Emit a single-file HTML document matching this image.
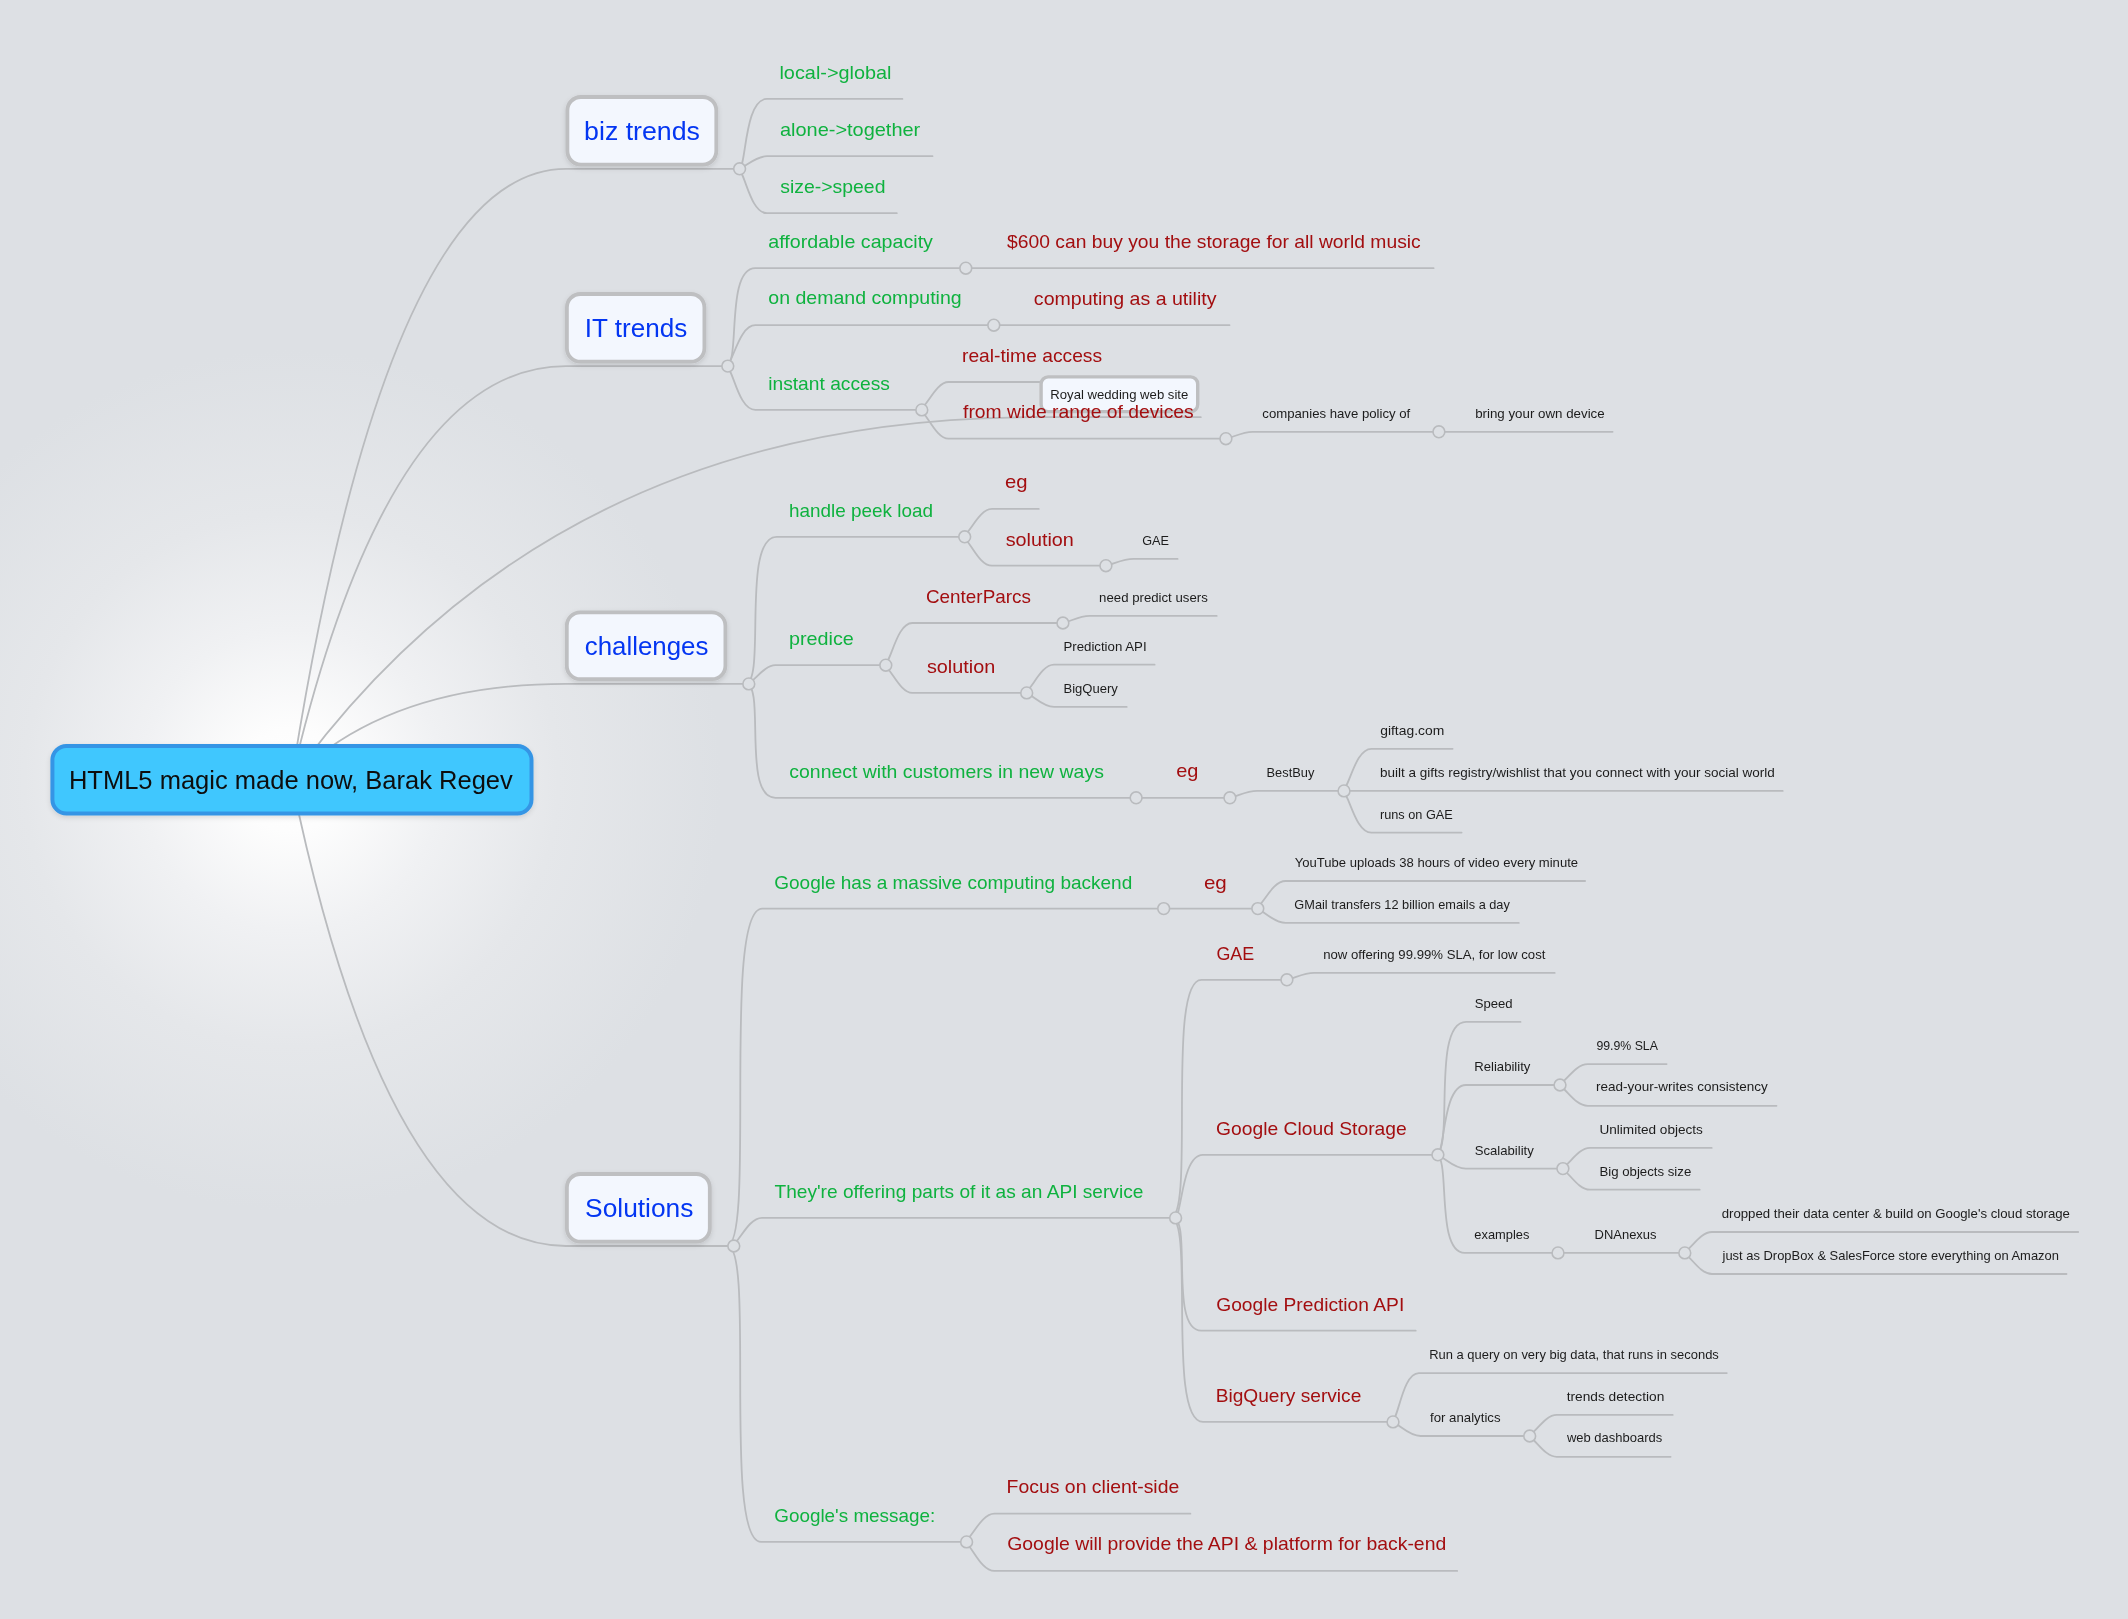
<!DOCTYPE html><html><head><meta charset="utf-8"><style>html,body{margin:0;padding:0;background:#dde0e4;}svg{display:block;will-change:transform;}text{font-family:"Liberation Sans",sans-serif;white-space:pre;}</style></head><body>
<svg width="2128" height="1619" viewBox="0 0 2128 1619">
<defs><radialGradient id="glow" cx="291" cy="780" r="430" gradientUnits="userSpaceOnUse"><stop offset="0" stop-color="#ffffff"/><stop offset="0.12" stop-color="#fdfdfd"/><stop offset="0.35" stop-color="#f0f1f3"/><stop offset="0.62" stop-color="#e5e7ea"/><stop offset="1" stop-color="#dde0e4"/></radialGradient>
<filter id="sh" x="-20%" y="-30%" width="140%" height="160%"><feDropShadow dx="0" dy="2" stdDeviation="2.5" flood-color="#000" flood-opacity="0.12"/></filter></defs>
<rect width="2128" height="1619" fill="#dde0e4"/><rect width="2128" height="1619" fill="url(#glow)"/>
<g fill="none" stroke="#b9bbbe" stroke-width="1.8" stroke-linecap="round">
<path d="M291.5,779.5Q388.1,168.8 566.0,168.8H739.6"/>
<path d="M291.5,779.5Q388.1,366.1 566.0,366.1H727.8"/>
<path d="M291.5,779.5Q388.1,683.9 566.0,683.9H748.8"/>
<path d="M291.5,779.5Q388.1,1246.0 566.0,1246.0H733.8"/>
<path d="M291.5,779.5Q553.4,417.2 1035.5,417.2H1200.8"/>
<path d="M739.6,168.8L739.1,168.8C746.3,168.8 744.0,98.9 767.0,98.9H902.4"/>
<path d="M739.6,168.8L737.7,168.8C744.2,168.8 754.4,156.2 767.0,156.2H932.5"/>
<path d="M739.6,168.8L737.5,168.8C744.7,168.8 749.5,213.2 767.0,213.2H896.8"/>
<path d="M727.8,366.0L725.8,366.0C741.0,366.0 724.9,268.2 755.4,268.2H965.8"/>
<path d="M727.8,366.0L725.5,366.0C732.7,366.0 738.4,325.2 755.4,325.2H993.8"/>
<path d="M727.8,366.0L725.7,366.0C732.9,366.0 737.8,409.9 755.4,409.9H921.8"/>
<path d="M965.8,268.2H1433.6"/>
<path d="M993.8,325.2H1229.5"/>
<path d="M921.8,409.9L918.7,409.9C926.0,409.9 935.2,382.0 948.5,382.0H1114.0"/>
<path d="M921.8,409.9L918.7,409.9C926.0,409.9 935.0,438.7 948.5,438.7H1225.9"/>
<path d="M1225.9,438.7L1224.4,438.7C1230.7,438.7 1241.3,431.8 1252.4,431.8H1438.9"/>
<path d="M1438.9,431.8H1612.6"/>
<path d="M748.8,683.9L745.3,683.9C766.5,683.9 740.9,536.8 776.7,536.8H964.7"/>
<path d="M748.8,683.9L746.4,683.9C753.2,683.9 763.1,665.2 775.4,665.2H885.8"/>
<path d="M748.8,683.9L745.9,683.9C765.7,683.9 741.7,797.8 775.4,797.8H1136.1"/>
<path d="M964.7,536.8L961.6,536.8C968.9,536.8 978.1,508.9 992.1,508.9H1038.8"/>
<path d="M964.7,536.8L961.7,536.8C968.9,536.8 977.9,565.7 992.0,565.7H1105.9"/>
<path d="M1105.9,565.7L1104.4,565.7C1110.7,565.7 1121.3,558.9 1133.6,558.9H1177.6"/>
<path d="M885.8,665.2L883.6,665.2C890.8,665.2 896.1,623.0 912.3,623.0H1062.9"/>
<path d="M1062.9,623.0L1061.4,623.0C1067.7,623.0 1078.2,615.9 1089.7,615.9H1216.7"/>
<path d="M885.8,665.2L882.7,665.2C890.0,665.2 899.2,692.9 912.3,692.9H1026.7"/>
<path d="M1026.7,692.9L1023.6,692.9C1030.9,692.9 1040.0,664.7 1054.0,664.7H1154.6"/>
<path d="M1026.7,692.9L1024.7,692.9C1031.3,692.9 1041.4,706.9 1054.0,706.9H1126.7"/>
<path d="M1136.1,797.8H1229.9"/>
<path d="M1229.9,797.8L1228.4,797.8C1234.7,797.8 1245.3,790.9 1257.1,790.9H1344.0"/>
<path d="M1344.0,790.9L1341.8,790.9C1349.0,790.9 1354.4,748.8 1371.4,748.8H1452.6"/>
<path d="M1344.0,790.9H1782.7"/>
<path d="M1344.0,790.9L1341.7,790.9C1349.0,790.9 1354.4,832.6 1371.4,832.6H1461.6"/>
<path d="M733.8,1246.0L726.8,1246.0C756.2,1246.0 721.6,908.6 762.2,908.6H1163.7"/>
<path d="M733.8,1246.0L730.7,1246.0C738.0,1246.0 747.2,1217.9 762.0,1217.9H1175.6"/>
<path d="M733.8,1246.0L727.6,1246.0C755.2,1246.0 722.5,1541.9 761.1,1541.9H966.6"/>
<path d="M1163.7,908.6H1257.8"/>
<path d="M1257.8,908.6L1254.7,908.6C1262.0,908.6 1271.2,881.0 1285.7,881.0H1585.1"/>
<path d="M1257.8,908.6L1255.7,908.6C1262.4,908.6 1272.5,922.9 1285.7,922.9H1518.8"/>
<path d="M1175.6,1217.9L1170.4,1217.9C1195.6,1217.9 1165.7,979.8 1201.4,979.8H1286.9"/>
<path d="M1286.9,979.8L1285.4,979.8C1291.7,979.8 1302.3,972.9 1314.1,972.9H1554.7"/>
<path d="M1175.6,1217.9L1174.7,1217.9C1181.9,1217.9 1181.4,1154.8 1202.8,1154.8H1437.9"/>
<path d="M1175.6,1217.9L1172.7,1217.9C1192.3,1217.9 1168.8,1330.7 1201.3,1330.7H1415.7"/>
<path d="M1175.6,1217.9L1171.0,1217.9C1194.7,1217.9 1166.4,1421.9 1203.0,1421.9H1393.0"/>
<path d="M1437.9,1154.8L1434.6,1154.8C1455.3,1154.8 1430.4,1021.9 1466.1,1021.9H1520.5"/>
<path d="M1437.9,1154.8L1437.4,1154.8C1444.6,1154.8 1442.3,1085.0 1466.0,1085.0H1560.0"/>
<path d="M1437.9,1154.8L1435.9,1154.8C1442.5,1154.8 1452.6,1168.6 1465.9,1168.6H1562.9"/>
<path d="M1437.9,1154.8L1435.8,1154.8C1451.1,1154.8 1434.9,1252.9 1464.8,1252.9H1558.0"/>
<path d="M1560.0,1085.0L1557.4,1085.0C1564.4,1085.0 1574.0,1064.1 1587.8,1064.1H1666.6"/>
<path d="M1560.0,1085.0L1557.4,1085.0C1564.4,1085.0 1574.1,1105.8 1587.8,1105.8H1776.5"/>
<path d="M1562.9,1168.6L1560.3,1168.6C1567.3,1168.6 1577.0,1147.9 1589.9,1147.9H1711.7"/>
<path d="M1562.9,1168.6L1560.3,1168.6C1567.3,1168.6 1576.9,1189.7 1589.9,1189.7H1699.7"/>
<path d="M1558.0,1252.9H1684.8"/>
<path d="M1684.8,1252.9L1682.2,1252.9C1689.2,1252.9 1698.8,1232.0 1712.0,1232.0H2078.2"/>
<path d="M1684.8,1252.9L1682.2,1252.9C1689.2,1252.9 1698.8,1274.0 1712.0,1274.0H2066.5"/>
<path d="M1393.0,1421.9L1391.2,1421.9C1398.4,1421.9 1401.9,1373.1 1418.9,1373.1H1726.8"/>
<path d="M1393.0,1421.9L1390.9,1421.9C1397.6,1421.9 1407.7,1436.0 1420.6,1436.0H1529.7"/>
<path d="M1529.7,1436.0L1527.1,1436.0C1534.1,1436.0 1543.7,1414.9 1556.8,1414.9H1672.7"/>
<path d="M1529.7,1436.0L1527.1,1436.0C1534.1,1436.0 1543.8,1456.8 1556.8,1456.8H1670.6"/>
<path d="M966.6,1541.9L963.5,1541.9C970.8,1541.9 979.9,1513.7 994.4,1513.7H1190.4"/>
<path d="M966.6,1541.9L963.6,1541.9C970.8,1541.9 979.8,1570.9 994.4,1570.9H1457.2"/>
</g>
<g fill="#dde0e4" stroke="#b9bbbe" stroke-width="1.6">
<circle cx="739.6" cy="168.8" r="5.9"/>
<circle cx="727.8" cy="366.1" r="5.9"/>
<circle cx="748.8" cy="683.9" r="5.9"/>
<circle cx="733.8" cy="1246.0" r="5.9"/>
<circle cx="965.8" cy="268.2" r="5.9"/>
<circle cx="993.8" cy="325.2" r="5.9"/>
<circle cx="921.8" cy="409.9" r="5.9"/>
<circle cx="1225.9" cy="438.7" r="5.9"/>
<circle cx="1438.9" cy="431.8" r="5.9"/>
<circle cx="964.7" cy="536.8" r="5.9"/>
<circle cx="885.8" cy="665.2" r="5.9"/>
<circle cx="1136.1" cy="797.8" r="5.9"/>
<circle cx="1105.9" cy="565.7" r="5.9"/>
<circle cx="1062.9" cy="623.0" r="5.9"/>
<circle cx="1026.7" cy="692.9" r="5.9"/>
<circle cx="1229.9" cy="797.8" r="5.9"/>
<circle cx="1344.0" cy="790.9" r="5.9"/>
<circle cx="1163.7" cy="908.6" r="5.9"/>
<circle cx="1175.6" cy="1217.9" r="5.9"/>
<circle cx="966.6" cy="1541.9" r="5.9"/>
<circle cx="1257.8" cy="908.6" r="5.9"/>
<circle cx="1286.9" cy="979.8" r="5.9"/>
<circle cx="1437.9" cy="1154.8" r="5.9"/>
<circle cx="1393.0" cy="1421.9" r="5.9"/>
<circle cx="1560.0" cy="1085.0" r="5.9"/>
<circle cx="1562.9" cy="1168.6" r="5.9"/>
<circle cx="1558.0" cy="1252.9" r="5.9"/>
<circle cx="1684.8" cy="1252.9" r="5.9"/>
<circle cx="1529.7" cy="1436.0" r="5.9"/>
</g>
<rect x="567.4" y="97.0" width="148.9" height="67.6" rx="13.5" fill="#f3f7fe" stroke="#bebfc1" stroke-width="3.8" filter="url(#sh)"/>
<rect x="566.9" y="294.0" width="137.5" height="67.7" rx="13.5" fill="#f3f7fe" stroke="#bebfc1" stroke-width="3.8" filter="url(#sh)"/>
<rect x="566.8" y="612.3" width="158.6" height="66.9" rx="13.5" fill="#f3f7fe" stroke="#bebfc1" stroke-width="3.8" filter="url(#sh)"/>
<rect x="566.9" y="1174.0" width="142.9" height="67.7" rx="13.5" fill="#f3f7fe" stroke="#bebfc1" stroke-width="3.8" filter="url(#sh)"/>
<rect x="52.4" y="746.0" width="479.1" height="67.5" rx="14" fill="#40c7fe" stroke="#3595e5" stroke-width="4" filter="url(#sh)"/>
<rect x="1041.1" y="376.9" width="156.6" height="34.7" rx="7" fill="#f3f7fe" stroke="#bebfc1" stroke-width="3.4"/>
<text x="1050.32" y="398.50" font-size="13.5" fill="#1c1c1c" textLength="137.96" lengthAdjust="spacingAndGlyphs">Royal wedding web site</text>
<text x="584.08" y="140.20" font-size="25" fill="#0436f2" textLength="115.89" lengthAdjust="spacingAndGlyphs">biz trends</text>
<text x="584.80" y="336.80" font-size="25" fill="#0436f2" textLength="102.43" lengthAdjust="spacingAndGlyphs">IT trends</text>
<text x="584.80" y="654.80" font-size="25" fill="#0436f2" textLength="123.63" lengthAdjust="spacingAndGlyphs">challenges</text>
<text x="585.10" y="1216.80" font-size="25" fill="#0436f2" textLength="108.35" lengthAdjust="spacingAndGlyphs">Solutions</text>
<text x="68.91" y="789.00" font-size="26" fill="#0d0d0d" textLength="443.87" lengthAdjust="spacingAndGlyphs">HTML5 magic made now, Barak Regev</text>
<text x="779.46" y="79.10" font-size="19.0" fill="#0fb23f" textLength="112.07" lengthAdjust="spacingAndGlyphs">local-&gt;global</text>
<text x="779.95" y="136.10" font-size="19.0" fill="#0fb23f" textLength="140.28" lengthAdjust="spacingAndGlyphs">alone-&gt;together</text>
<text x="780.26" y="192.90" font-size="19.0" fill="#0fb23f" textLength="105.19" lengthAdjust="spacingAndGlyphs">size-&gt;speed</text>
<text x="768.27" y="247.60" font-size="19.0" fill="#0fb23f" textLength="164.67" lengthAdjust="spacingAndGlyphs">affordable capacity</text>
<text x="768.28" y="304.10" font-size="19.0" fill="#0fb23f" textLength="193.38" lengthAdjust="spacingAndGlyphs">on demand computing</text>
<text x="768.22" y="389.50" font-size="19.0" fill="#0fb23f" textLength="121.68" lengthAdjust="spacingAndGlyphs">instant access</text>
<text x="1007.09" y="248.10" font-size="19.0" fill="#a30e10" textLength="413.62" lengthAdjust="spacingAndGlyphs">$600 can buy you the storage for all world music</text>
<text x="1033.87" y="304.70" font-size="19.0" fill="#a30e10" textLength="182.67" lengthAdjust="spacingAndGlyphs">computing as a utility</text>
<text x="962.02" y="361.90" font-size="19.0" fill="#a30e10" textLength="140.07" lengthAdjust="spacingAndGlyphs">real-time access</text>
<text x="963.03" y="418.20" font-size="19.0" fill="#a30e10" textLength="230.67" lengthAdjust="spacingAndGlyphs">from wide range of devices</text>
<text x="1262.34" y="417.60" font-size="13.3" fill="#1c1c1c" textLength="147.94" lengthAdjust="spacingAndGlyphs">companies have policy of</text>
<text x="1475.14" y="417.60" font-size="13.3" fill="#1c1c1c" textLength="129.55" lengthAdjust="spacingAndGlyphs">bring your own device</text>
<text x="788.99" y="516.80" font-size="19.0" fill="#0fb23f" textLength="144.03" lengthAdjust="spacingAndGlyphs">handle peek load</text>
<text x="789.03" y="644.90" font-size="19.0" fill="#0fb23f" textLength="64.85" lengthAdjust="spacingAndGlyphs">predice</text>
<text x="789.27" y="777.60" font-size="19.0" fill="#0fb23f" textLength="314.63" lengthAdjust="spacingAndGlyphs">connect with customers in new ways</text>
<text x="1005.04" y="488.30" font-size="19.0" fill="#a30e10" textLength="22.57" lengthAdjust="spacingAndGlyphs">eg</text>
<text x="1005.65" y="545.80" font-size="19.0" fill="#a30e10" textLength="68.24" lengthAdjust="spacingAndGlyphs">solution</text>
<text x="1142.16" y="544.90" font-size="13.3" fill="#1c1c1c" textLength="26.78" lengthAdjust="spacingAndGlyphs">GAE</text>
<text x="925.94" y="602.90" font-size="19.0" fill="#a30e10" textLength="105.04" lengthAdjust="spacingAndGlyphs">CenterParcs</text>
<text x="1099.12" y="601.50" font-size="13.3" fill="#1c1c1c" textLength="108.65" lengthAdjust="spacingAndGlyphs">need predict users</text>
<text x="926.95" y="672.70" font-size="19.0" fill="#a30e10" textLength="68.34" lengthAdjust="spacingAndGlyphs">solution</text>
<text x="1063.42" y="650.70" font-size="13.3" fill="#1c1c1c" textLength="83.19" lengthAdjust="spacingAndGlyphs">Prediction API</text>
<text x="1063.43" y="692.80" font-size="13.3" fill="#1c1c1c" textLength="54.40" lengthAdjust="spacingAndGlyphs">BigQuery</text>
<text x="1176.25" y="777.10" font-size="19.0" fill="#a30e10" textLength="22.24" lengthAdjust="spacingAndGlyphs">eg</text>
<text x="1266.55" y="777.10" font-size="13.3" fill="#1c1c1c" textLength="47.78" lengthAdjust="spacingAndGlyphs">BestBuy</text>
<text x="1380.22" y="734.90" font-size="13.3" fill="#1c1c1c" textLength="64.00" lengthAdjust="spacingAndGlyphs">giftag.com</text>
<text x="1379.93" y="776.70" font-size="13.3" fill="#1c1c1c" textLength="394.94" lengthAdjust="spacingAndGlyphs">built a gifts registry/wishlist that you connect with your social world</text>
<text x="1379.96" y="818.60" font-size="13.3" fill="#1c1c1c" textLength="72.79" lengthAdjust="spacingAndGlyphs">runs on GAE</text>
<text x="774.24" y="888.60" font-size="19.0" fill="#0fb23f" textLength="357.98" lengthAdjust="spacingAndGlyphs">Google has a massive computing backend</text>
<text x="774.47" y="1197.80" font-size="19.0" fill="#0fb23f" textLength="368.87" lengthAdjust="spacingAndGlyphs">They're offering parts of it as an API service</text>
<text x="774.25" y="1521.50" font-size="19.0" fill="#0fb23f" textLength="160.97" lengthAdjust="spacingAndGlyphs">Google's message:</text>
<text x="1203.93" y="888.60" font-size="19.0" fill="#a30e10" textLength="22.90" lengthAdjust="spacingAndGlyphs">eg</text>
<text x="1294.71" y="867.10" font-size="13.3" fill="#1c1c1c" textLength="283.36" lengthAdjust="spacingAndGlyphs">YouTube uploads 38 hours of video every minute</text>
<text x="1294.36" y="908.50" font-size="13.3" fill="#1c1c1c" textLength="215.47" lengthAdjust="spacingAndGlyphs">GMail transfers 12 billion emails a day</text>
<text x="1216.40" y="959.70" font-size="19.0" fill="#a30e10" textLength="37.77" lengthAdjust="spacingAndGlyphs">GAE</text>
<text x="1323.23" y="958.80" font-size="13.3" fill="#1c1c1c" textLength="222.17" lengthAdjust="spacingAndGlyphs">now offering 99.99% SLA, for low cost</text>
<text x="1216.13" y="1134.50" font-size="19.0" fill="#a30e10" textLength="190.62" lengthAdjust="spacingAndGlyphs">Google Cloud Storage</text>
<text x="1216.24" y="1311.20" font-size="19.0" fill="#a30e10" textLength="188.02" lengthAdjust="spacingAndGlyphs">Google Prediction API</text>
<text x="1215.63" y="1401.60" font-size="19.0" fill="#a30e10" textLength="145.72" lengthAdjust="spacingAndGlyphs">BigQuery service</text>
<text x="1474.70" y="1007.60" font-size="13.3" fill="#1c1c1c" textLength="37.94" lengthAdjust="spacingAndGlyphs">Speed</text>
<text x="1474.22" y="1070.70" font-size="13.3" fill="#1c1c1c" textLength="56.20" lengthAdjust="spacingAndGlyphs">Reliability</text>
<text x="1474.70" y="1154.80" font-size="13.3" fill="#1c1c1c" textLength="59.12" lengthAdjust="spacingAndGlyphs">Scalability</text>
<text x="1474.35" y="1238.60" font-size="13.3" fill="#1c1c1c" textLength="55.11" lengthAdjust="spacingAndGlyphs">examples</text>
<text x="1596.42" y="1049.90" font-size="13.3" fill="#1c1c1c" textLength="61.50" lengthAdjust="spacingAndGlyphs">99.9% SLA</text>
<text x="1596.10" y="1091.40" font-size="13.3" fill="#1c1c1c" textLength="171.72" lengthAdjust="spacingAndGlyphs">read-your-writes consistency</text>
<text x="1599.45" y="1133.80" font-size="13.3" fill="#1c1c1c" textLength="103.44" lengthAdjust="spacingAndGlyphs">Unlimited objects</text>
<text x="1599.42" y="1175.70" font-size="13.3" fill="#1c1c1c" textLength="91.87" lengthAdjust="spacingAndGlyphs">Big objects size</text>
<text x="1594.54" y="1238.60" font-size="13.3" fill="#1c1c1c" textLength="62.03" lengthAdjust="spacingAndGlyphs">DNAnexus</text>
<text x="1721.65" y="1217.60" font-size="13.3" fill="#1c1c1c" textLength="348.34" lengthAdjust="spacingAndGlyphs">dropped their data center &amp; build on Google's cloud storage</text>
<text x="1722.52" y="1259.80" font-size="13.3" fill="#1c1c1c" textLength="336.42" lengthAdjust="spacingAndGlyphs">just as DropBox &amp; SalesForce store everything on Amazon</text>
<text x="1429.14" y="1358.70" font-size="13.3" fill="#1c1c1c" textLength="289.73" lengthAdjust="spacingAndGlyphs">Run a query on very big data, that runs in seconds</text>
<text x="1430.01" y="1421.80" font-size="13.3" fill="#1c1c1c" textLength="70.57" lengthAdjust="spacingAndGlyphs">for analytics</text>
<text x="1566.69" y="1400.60" font-size="13.3" fill="#1c1c1c" textLength="97.60" lengthAdjust="spacingAndGlyphs">trends detection</text>
<text x="1566.92" y="1442.40" font-size="13.3" fill="#1c1c1c" textLength="95.25" lengthAdjust="spacingAndGlyphs">web dashboards</text>
<text x="1006.61" y="1493.20" font-size="19.0" fill="#a30e10" textLength="172.66" lengthAdjust="spacingAndGlyphs">Focus on client-side</text>
<text x="1007.23" y="1550.00" font-size="19.0" fill="#a30e10" textLength="439.02" lengthAdjust="spacingAndGlyphs">Google will provide the API &amp; platform for back-end</text>
</svg></body></html>
